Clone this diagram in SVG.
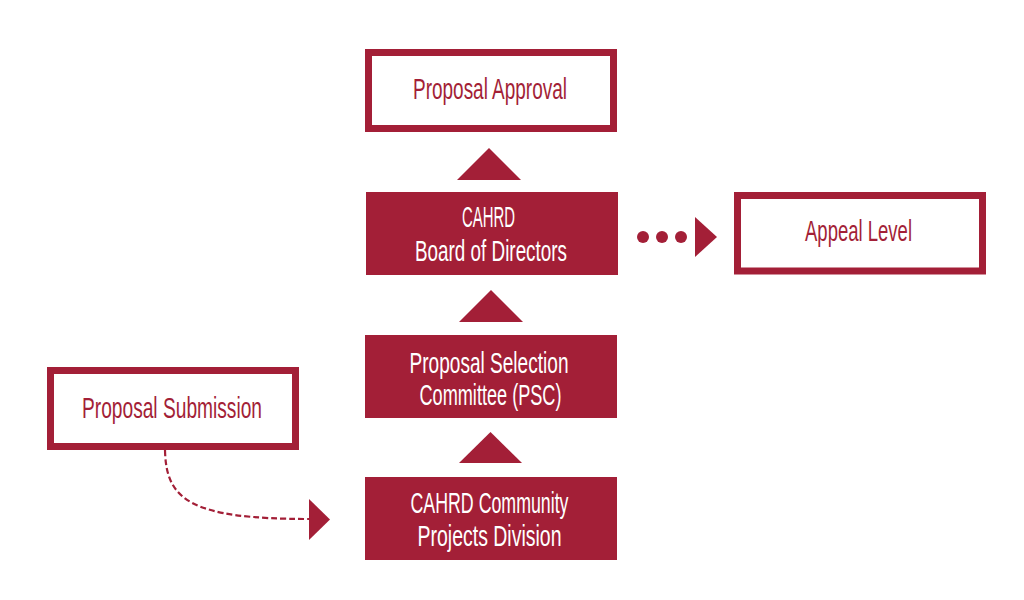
<svg xmlns="http://www.w3.org/2000/svg" width="1024" height="600" viewBox="0 0 1024 600">
<defs>
<style>
.outline{fill:#ffffff;stroke:#A31F37;stroke-width:7}
.filled{fill:#A31F37}
.arrow{fill:#A31F37}
.t{font-family:"Liberation Sans","DejaVu Sans Condensed",sans-serif;font-size:29px;text-anchor:middle}
.tw{fill:#ffffff}
.tr{fill:#A31F37}
.dash{fill:none;stroke:#A31F37;stroke-width:2.2;stroke-dasharray:6 3}
</style>
</defs>
<rect width="1024" height="600" fill="#ffffff"/>
<g id="proposal-approval">
<rect class="outline" x="368.5" y="52.5" width="245" height="76"/>
<text class="t tr" x="490" y="99" textLength="154" lengthAdjust="spacingAndGlyphs">Proposal Approval</text>
</g>
<g id="board-of-directors">
<rect class="filled" x="366" y="192" width="252" height="83"/>
<text class="t tw" x="488.5" y="227" textLength="53" lengthAdjust="spacingAndGlyphs">CAHRD</text>
<text class="t tw" x="491" y="261" textLength="152" lengthAdjust="spacingAndGlyphs">Board of Directors</text>
</g>
<g id="appeal-level">
<rect class="outline" x="737.5" y="195.5" width="245" height="75.5"/>
<text class="t tr" x="858.5" y="241" textLength="107" lengthAdjust="spacingAndGlyphs">Appeal Level</text>
</g>
<g id="proposal-selection-committee">
<rect class="filled" x="365" y="335" width="252" height="83"/>
<text class="t tw" x="489" y="372.5" textLength="159" lengthAdjust="spacingAndGlyphs">Proposal Selection</text>
<text class="t tw" x="490.5" y="405" textLength="142" lengthAdjust="spacingAndGlyphs">Committee (PSC)</text>
</g>
<g id="community-projects-division">
<rect class="filled" x="365" y="477" width="252" height="83"/>
<text class="t tw" x="489.5" y="513" textLength="158" lengthAdjust="spacingAndGlyphs">CAHRD Community</text>
<text class="t tw" x="489.5" y="546" textLength="144" lengthAdjust="spacingAndGlyphs">Projects Division</text>
</g>
<g id="proposal-submission">
<rect class="outline" x="50.5" y="370.5" width="245" height="76"/>
<text class="t tr" x="172" y="418" textLength="180" lengthAdjust="spacingAndGlyphs">Proposal Submission</text>
</g>
<g id="connectors">
<polygon class="arrow" points="457,180 521,180 489,148"/>
<polygon class="arrow" points="459,322 523,322 491,290"/>
<polygon class="arrow" points="459,463 522,463 490.5,432"/>
<circle class="arrow" cx="643" cy="237" r="6"/>
<circle class="arrow" cx="662" cy="237" r="6"/>
<circle class="arrow" cx="681" cy="237" r="6"/>
<polygon class="arrow" points="695,217 717,237 695,257"/>
<path class="dash" d="M165,450 C166,500 190,519 310,519"/>
<polygon class="arrow" points="309,499 330,519.5 309,540"/>
</g>
</svg>
